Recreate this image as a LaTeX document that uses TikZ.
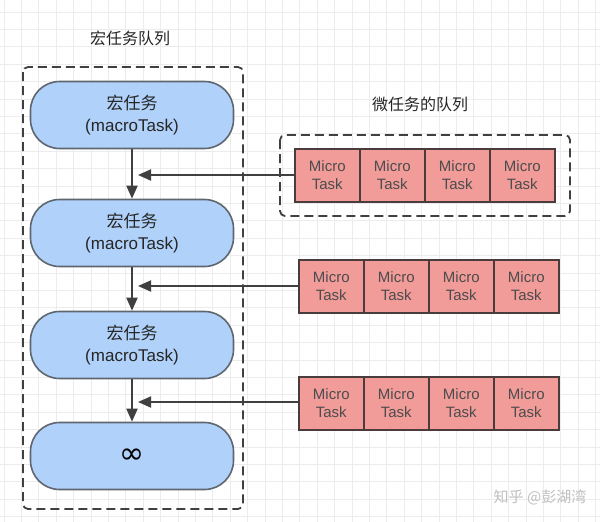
\documentclass[tikz,border=0pt]{standalone}
\usepackage{fontspec}
\setmainfont{Liberation Sans}
\newfontfamily\cjk{Noto Sans CJK SC}
\newfontfamily\dejavu{DejaVu Sans}
\usetikzlibrary{arrows.meta,positioning}
\definecolor{gridc}{HTML}{ECECEC}
\definecolor{pillfill}{HTML}{B0D1FA}
\definecolor{pilldraw}{HTML}{5E6670}
\definecolor{mfill}{HTML}{F29C9A}
\definecolor{mdraw}{HTML}{4A3C3C}
\definecolor{linec}{HTML}{404040}
\begin{document}
\begin{tikzpicture}[x=1pt,y=-1pt,
  pill/.style={draw=pilldraw,fill=pillfill,line width=1.6pt,rounded corners=29pt,
    minimum width=203pt,minimum height=67pt,inner sep=0pt,align=center,
    font=\fontsize{17}{22}\selectfont,text=black!85},
  mtask/.style={draw=mdraw,fill=mfill,line width=1.6pt,minimum width=65pt,
    minimum height=53pt,inner sep=0pt,align=center,font=\fontsize{15}{18}\selectfont,
    text=black!70},
  dashbox/.style={draw=black!75,line width=1.8pt,dash pattern=on 9pt off 5pt,rounded corners=5pt},
  flow/.style={draw=linec,line width=1.8pt,-{Triangle[length=13pt,width=11pt]}},
  lbl/.style={font=\cjk\fontsize{16}{19}\selectfont,text=black!85}]
\useasboundingbox (0,0) rectangle (600,522);
\fill[white] (0,0) rectangle (600,522);
\foreach \i in {0,...,35} {\draw[gridc,line width=0.8pt] (4+17.4*\i,0) -- (4+17.4*\i,522);}
\foreach \i in {0,...,30} {\draw[gridc,line width=0.8pt] (0,12+17.4*\i) -- (600,12+17.4*\i);}
% containers
\draw[dashbox] (23,67) rectangle (243,509);
\draw[dashbox] (280,135) rectangle (570,216);
\node[lbl] (t1) at (130,38) {宏任务队列};
\node[lbl] (t2) at (420,104) {微任务的队列};
% macro tasks
\node[pill] (m1) at (132,115) {{\cjk 宏任务}\\(macroTask)};
\node[pill] (m2) at (132,233) {{\cjk 宏任务}\\(macroTask)};
\node[pill] (m3) at (132,345) {{\cjk 宏任务}\\(macroTask)};
\node[pill,font=\dejavu\fontsize{30}{32}\selectfont,text=black] (m4) at (132,456) {∞};
% micro rows
\foreach \r/\x/\y in {a/294/148,b/298/259,c/298/376}{
  \foreach \k in {1,...,4}{
    \node[mtask,anchor=north west] (\r\k) at (\x+65*\k-65,\y) {Micro\\Task};
  }
}
% flows
\draw[flow] (m1) -- (m2);
\draw[flow] (m2) -- (m3);
\draw[flow] (m3) -- (m4);
\coordinate (e1) at (138,175);
\coordinate (e2) at (138,286);
\coordinate (e3) at (138,402);
\draw[flow] (a1.west |- e1) -- (e1);
\draw[flow] (b1.west |- e2) -- (e2);
\draw[flow] (c1.west |- e3) -- (e3);
\node[font=\cjk\fontsize{15}{18}\selectfont,text=black!25] (wm) at (540,497) {知乎 @彭湖湾};
\end{tikzpicture}
\end{document}
